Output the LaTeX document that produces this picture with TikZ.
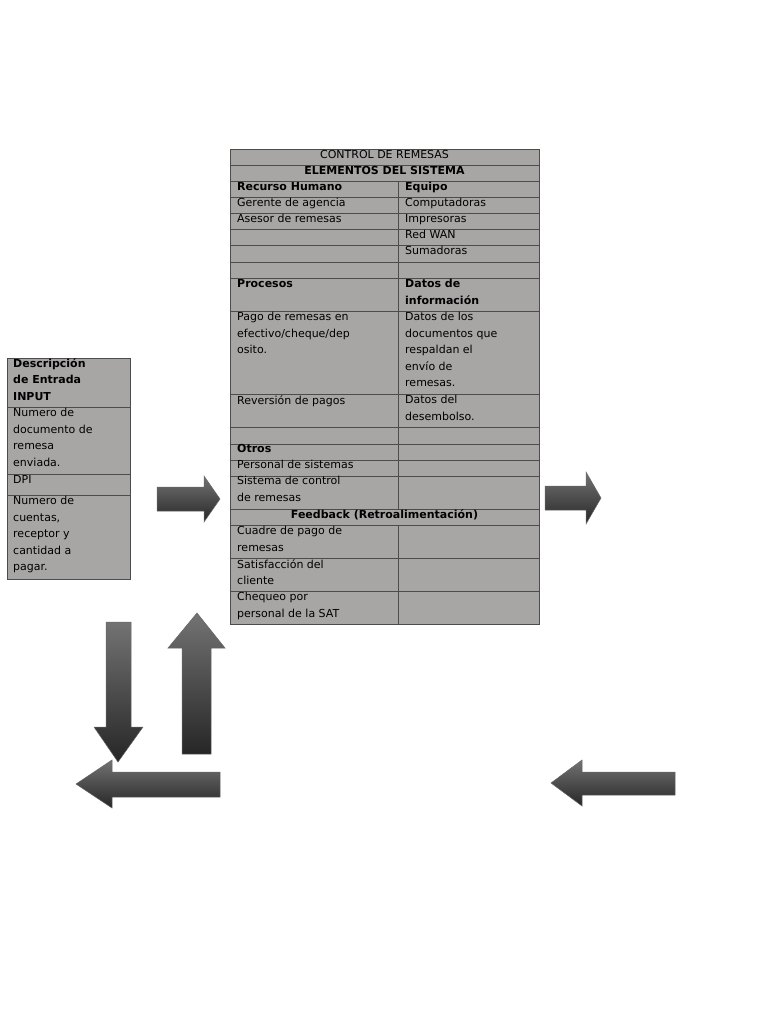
\documentclass[tikz,border=0pt]{standalone}
\usepackage{fontspec}
\setmainfont{DejaVu Sans}
\begin{document}
\begin{tikzpicture}[x=1pt,y=-1pt,
  box/.style={draw=black!70,fill=cellgray,line width=0.6pt},
  txt/.style={anchor=north west,inner sep=0pt,align=left,font=\fontsize{11}{16.5}\selectfont},
  ctr/.style={anchor=north,inner sep=0pt,align=center,font=\fontsize{11}{16.5}\selectfont\bfseries},
  arr/.style={draw=black!60,line width=0.5pt,top color=black!55,bottom color=black!85}]
\definecolor{cellgray}{HTML}{A8A5A5}
\useasboundingbox (0,0) rectangle (768,1024);
% main table rows
\foreach \a/\b in {149/165,165/181,509/525}{\draw[box] (230,\a) rectangle (539,\b);}
\foreach \a/\b in {181/197,197/213,213/229,229/245,245/262,262/278,278/311,311/394,394/427,427/444,444/460,460/476,476/509,525/558,558/591,591/624}{
  \draw[box] (230,\a) rectangle (398,\b); \draw[box] (398,\a) rectangle (539,\b);}
\node[ctr] (t1) at (384.5,150) {\mdseries CONTROL DE REMESAS};
\node[ctr] (t2) at (384.5,166) {ELEMENTOS DEL SISTEMA};
\node[txt] (a1) at (237,182) {\bfseries Recurso Humano};
\node[txt] (b1) at (405,182) {\bfseries Equipo};
\node[txt] (a2) at (237,198) {Gerente de agencia};
\node[txt] (b2) at (405,198) {Computadoras};
\node[txt] (a3) at (237,214) {Asesor de remesas};
\node[txt] (b3) at (405,214) {Impresoras};
\node[txt] (b4) at (405,230) {Red WAN};
\node[txt] (b5) at (405,246) {Sumadoras};
\node[txt] (a6) at (237,279) {\bfseries Procesos};
\node[txt] (b6) at (405,279) {\bfseries Datos de\\\bfseries información};
\node[txt] (a7) at (237,312) {Pago de remesas en\\efectivo/cheque/dep\\osito.};
\node[txt] (b7) at (405,312) {Datos de los\\documentos que\\respaldan el\\envío de\\remesas.};
\node[txt] (a8) at (237,395) {Reversión de pagos};
\node[txt] (b8) at (405,395) {Datos del\\desembolso.};
\node[txt] (a9) at (237,444) {\bfseries Otros};
\node[txt] (a10) at (237,460) {Personal de sistemas};
\node[txt] (a11) at (237,476) {Sistema de control\\de remesas};
\node[ctr] (t3) at (384.5,509) {Feedback (Retroalimentación)};
\node[txt] (a12) at (237,526) {Cuadre de pago de\\remesas};
\node[txt] (a13) at (237,559) {Satisfacción del\\cliente};
\node[txt] (a14) at (237,592) {Chequeo por\\personal de la SAT};
% left table
\foreach \a/\b in {358/407,407/474,474/495,495/579}{\draw[box] (7,\a) rectangle (130,\b);}
\node[txt] (l1) at (13,358) {\bfseries Descripción\\\bfseries de Entrada\\\bfseries INPUT};
\node[txt] (l2) at (13,408) {Numero de\\documento de\\remesa\\enviada.};
\node[txt] (l3) at (13,475) {DPI};
\node[txt] (l4) at (13,496) {Numero de\\cuentas,\\receptor y\\cantidad a\\pagar.};
% arrows
\draw[arr] (157,487) -- (204,487) -- (204,476) -- (220,499) -- (204,522) -- (204,511) -- (157,511) -- cycle;
\draw[arr] (545,486) -- (586,486) -- (586,472) -- (601,498) -- (586,524) -- (586,510) -- (545,510) -- cycle;
\draw[arr] (106,622) -- (131,622) -- (131,727) -- (143,727) -- (118,762) -- (94,727) -- (106,727) -- cycle;
\draw[arr] (182,754) -- (182,648) -- (168,648) -- (197,613) -- (225,648) -- (211,648) -- (211,754) -- cycle;
\draw[arr] (220,772) -- (112,772) -- (112,760) -- (76,784) -- (112,808) -- (112,797) -- (220,797) -- cycle;
\draw[arr] (675,772) -- (582,772) -- (582,760) -- (551,783) -- (582,806) -- (582,795) -- (675,795) -- cycle;
\end{tikzpicture}
\end{document}
